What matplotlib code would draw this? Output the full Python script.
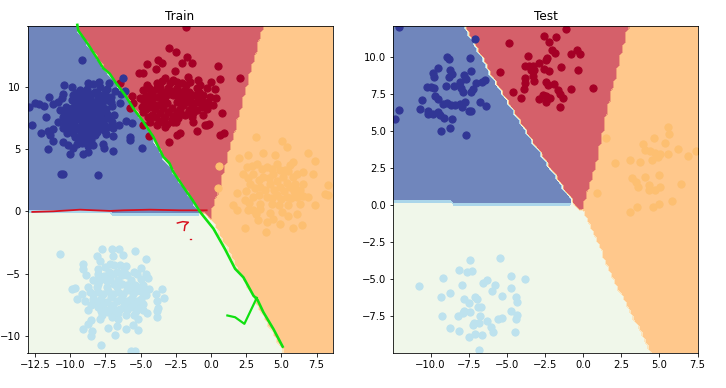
import matplotlib
matplotlib.use("Agg")
import matplotlib.pyplot as plt
from matplotlib.path import Path
import numpy as np

# --- train points -----------------------------------------------------------
train_blue = [(-9.17,12.14),(-6.28,10.67),(-6.09,9.68),(-10.66,3.03),(-10.52,2.98),(-8.01,2.95),(-4.93,5.09),(-6.94,4.85),
    (-11.61,4.99),(-12.11,6.25),(-12.73,6.92),(-12.91,8.39),(-12.54,8.66),(-12.20,8.58),(-11.87,8.45),(-11.49,9.20),
    (-10.43,10.13),(-9.88,10.0),(-11.21,8.61),(-11.26,6.57),(-11.56,6.46),(-11.73,7.59),(-11.45,6.11),(-11.26,5.66),
    (-8.72,10.27),(-8.36,10.21),(-7.96,10.40),(-7.23,10.27),(-9.31,9.73),(-8.79,9.79),(-8.25,9.60),(-7.89,9.95),
    (-7.42,9.79),(-6.82,9.68),(-6.42,9.41),(-10.50,9.38),(-10.62,9.06),(-10.85,8.79),(-9.79,9.33),(-9.43,9.20),
    (-9.08,9.33),(-8.60,9.20),(-8.01,9.06),(-7.65,9.20),(-7.13,8.79),(-7.06,8.45),(-6.47,8.71),(-9.67,8.66),
    (-9.19,8.53),(-8.72,8.53),(-8.25,8.45),(-7.77,8.53),(-10.73,8.12),(-10.14,7.99),(-9.67,7.99),(-9.19,7.91),
    (-8.72,7.99),(-8.13,7.99),(-7.65,7.99),(-10.50,7.59),(-10.02,7.53),(-9.43,7.45),(-8.96,7.59),(-8.48,7.45),
    (-7.89,7.59),(-7.30,7.45),(-10.85,7.18),(-10.38,7.10),(-9.79,7.05),(-9.19,7.05),(-8.72,7.00),(-8.25,7.10),
    (-7.65,7.18),(-7.06,7.18),(-6.52,6.92),(-6.04,7.27),(-5.64,7.10),(-10.50,6.65),(-10.02,6.57),(-9.43,6.57),
    (-8.96,6.57),(-8.36,6.65),(-7.89,6.65),(-7.30,6.78),(-10.26,6.25),(-9.67,5.98),(-9.19,6.11),(-8.72,6.11),
    (-8.25,6.11),(-7.46,6.17),(-6.99,6.06),(-5.76,5.98),(-5.76,5.71),(-10.50,5.58),(-10.14,5.31),(-9.83,5.04),
    (-10.02,4.58),(-9.08,4.58),(-8.72,4.77),(-8.72,5.23),(-8.41,5.31),(-7.65,5.44),(-7.61,5.04),
    (-9.6,9.5),(-9.0,9.6),(-8.5,9.4),(-8.0,9.4),(-7.5,9.5),(-7.1,9.2),(-9.9,8.9),(-9.4,8.9),(-8.9,8.9),(-8.4,8.8),
    (-7.9,8.8),(-7.4,8.9),(-10.3,8.4),(-9.9,8.3),(-9.4,8.3),(-8.95,8.2),(-8.5,8.2),(-7.95,8.3),(-7.45,8.2),(-10.4,7.8),
    (-9.9,7.75),(-9.45,7.7),(-8.95,7.75),(-8.45,7.75),(-7.9,7.75),(-7.4,7.8),(-6.9,7.7),(-10.2,7.3),(-9.7,7.3),(-9.2,7.3),
    (-8.7,7.25),(-8.2,7.3),(-7.7,7.4),(-10.0,6.85),(-9.55,6.8),(-9.1,6.8),(-8.6,6.8),(-8.1,6.85),(-7.6,6.9),(-7.0,6.7),
    (-9.8,6.3),(-9.25,6.35),(-8.7,6.35),(-8.1,6.4),(-7.6,6.5),(-9.4,5.8),(-8.95,5.8),(-8.5,5.7),(-9.5,5.4),(-9.2,5.5)]
train_red = [(-1.78,14.77),(-2.96,13.14),(-2.46,12.76),(-1.68,12.36),(-1.33,11.93),(-2.04,11.88),(-4.53,11.80),(-3.79,12.17),
    (-3.46,11.88),(-3.93,11.39),(-5.14,11.07),(-4.81,11.10),(-2.56,11.29),(0.52,11.69),(-1.66,10.75),(2.06,10.72),
    (0.64,10.59),(-0.02,10.38),(-0.90,10.54),(-6.47,10.32),(-5.64,9.28),(-5.76,8.26),(-4.81,6.92),(-4.38,6.03),
    (-2.96,5.60),(-2.20,6.25),(-2.44,6.11),(-0.97,6.41),(0.64,6.11),(0.92,6.25),(0.76,7.86),(-0.31,6.92),
    (-0.12,7.00),(-0.43,6.92),(-1.37,7.59),(-1.30,7.18),(0.36,9.06),(0.17,8.53),(-0.31,9.87),(0.28,9.79),
    (-0.78,10.13),(-4.57,10.13),(-3.86,10.27),(-3.27,10.67),(-2.68,10.54),(-2.09,10.27),(-1.49,10.40),(-1.02,9.87),
    (-4.81,9.73),(-4.22,9.60),(-3.63,9.95),(-3.03,9.87),(-2.44,9.87),(-1.85,9.73),(-1.26,9.33),(-0.55,9.33),
    (-0.07,9.20),(-5.05,9.06),(-4.45,8.93),(-3.86,9.20),(-3.27,9.20),(-2.68,9.33),(-2.09,9.20),(-1.49,8.93),
    (-0.90,8.79),(-0.19,8.66),(-5.52,8.66),(-4.93,8.34),(-4.34,8.39),(-3.74,8.53),(-3.15,8.66),(-2.44,8.79),
    (-1.97,8.53),(-1.37,8.39),(-0.66,8.39),(-4.81,7.99),(-4.22,7.72),(-3.63,7.86),(-3.03,7.99),(-2.44,7.99),
    (-1.85,7.72),(-1.26,7.86),(-0.55,7.72),(-4.34,7.18),(-3.86,6.92),(-3.39,7.32),(-2.80,7.32),(-2.32,7.45),
    (-3.27,6.78),(-2.68,7.18),(-7.54,7.53),
    (-3.5,10.45),(-2.9,10.3),(-2.4,10.4),(-1.8,10.15),(-4.4,9.9),(-3.9,9.85),(-3.3,9.6),(-2.75,9.65),(-2.2,9.6),(-1.6,9.6),
    (-0.85,9.55),(-4.6,9.3),(-4.2,9.2),(-3.55,9.4),(-3.0,9.45),(-2.4,9.3),(-1.8,9.25),(-0.9,9.2),(-4.75,8.75),(-4.2,8.8),
    (-3.5,8.85),(-2.2,8.8),(-1.7,8.8),(-1.2,8.7),(-0.5,8.8),(-4.6,8.2),(-3.95,8.2),(-3.4,8.25),(-2.8,8.3),(-2.2,8.2),
    (-1.6,8.15),(-1.0,8.1),(-0.3,8.2),(-4.5,7.6),(-3.9,7.55),(-3.3,7.6),(-2.7,7.65),(-2.1,7.8),(-1.55,7.95),(-3.7,7.2),
    (-3.1,7.0),(-2.5,7.2)]
train_orange = [(3.18,5.98),(0.59,3.65),(0.52,1.90),(5.07,5.66),(5.38,5.17),(6.92,4.69),(7.39,4.02),(2.01,4.29),(2.65,4.50),
    (3.72,4.69),(4.55,4.50),(5.85,3.97),(5.62,3.70),(6.56,3.16),(7.27,3.03),(8.34,2.09),(8.10,1.42),(2.54,3.57),
    (3.25,3.83),(3.96,3.57),(4.67,3.83),(5.26,3.30),(2.30,3.03),(3.01,3.03),(3.72,2.76),(4.43,3.03),(5.14,2.76),
    (5.85,2.76),(6.56,2.23),(2.77,2.23),(3.48,1.96),(4.19,2.23),(4.91,1.96),(5.62,1.96),(6.33,1.69),(1.82,1.47),
    (6.92,1.15),(3.01,1.15),(3.96,1.15),(4.67,1.29),(5.38,1.15),(6.09,1.15),(2.42,0.88),(3.01,0.08),(3.36,-0.72),
    (3.96,-0.86),(4.91,-0.99),(5.85,-1.31),(6.45,-1.07),(2.42,-1.31),(3.91,-1.66),(1.59,0.48),(1.82,0.08),(2.65,0.08),
    (3.48,0.21),(4.31,0.62),(5.02,-0.05),(6.09,-0.19),(7.39,0.48),(8.34,1.29),
    (2.9,3.6),(3.6,3.4),(4.3,3.4),(4.9,3.3),(5.5,3.2),(6.1,3.0),(2.6,2.7),(3.4,2.5),(4.1,2.7),(4.7,2.4),(5.4,2.3),(6.0,2.2),
    (3.1,1.9),(3.8,1.7),(4.5,1.7),(5.2,1.6),(5.9,1.6),(2.5,1.6),(3.4,1.3),(4.3,1.1),(5.0,1.0),(5.7,1.1),(6.5,1.2),(2.7,0.7),
    (3.5,0.6),(4.8,0.5),(5.5,0.5),(6.3,0.6),(3.2,-0.2),(4.2,-0.1),(5.5,-0.4),(4.4,-0.6)]
train_light = [(-10.71,-3.40),(-7.77,-3.06),(-7.06,-3.00),(-6.52,-3.00),(-6.28,-3.54),(-5.43,-3.19),(-8.13,-3.59),(-7.89,-4.02),
    (-6.94,-3.62),(-4.62,-3.86),(-9.08,-4.26),(-9.08,-4.64),(-8.89,-5.09),(-7.18,-4.26),(-6.47,-4.34),(-6.07,-4.42),
    (-4.98,-4.53),(-5.29,-5.07),(-4.62,-5.01),(-4.45,-5.36),(-8.06,-5.01),(-7.25,-4.88),(-6.66,-4.88),(-5.95,-5.15),
    (-8.39,-5.50),(-7.89,-5.55),(-7.18,-5.42),(-6.59,-5.55),(-9.91,-6.25),(-9.67,-6.14),(-8.72,-6.09),(-8.13,-6.09),
    (-7.42,-6.09),(-6.71,-6.09),(-5.99,-5.95),(-5.40,-5.95),(-4.81,-5.95),(-4.41,-6.25),(-3.46,-6.25),(-9.19,-6.62),
    (-9.50,-7.02),(-8.36,-6.62),(-7.65,-6.62),(-6.94,-6.62),(-6.23,-6.62),(-5.52,-6.62),(-4.93,-6.49),(-3.93,-6.62),
    (-3.81,-7.16),(-3.34,-6.94),(-8.96,-7.16),(-8.13,-7.16),(-7.42,-7.29),(-6.71,-7.16),(-5.99,-7.16),(-5.29,-7.16),
    (-8.77,-7.88),(-8.01,-7.69),(-7.18,-7.83),(-6.47,-7.83),(-5.76,-7.69),(-5.17,-7.75),(-3.74,-7.75),(-3.86,-7.96),
    (-4.55,-8.15),(-7.77,-8.36),(-7.06,-8.50),(-6.07,-8.36),(-5.17,-8.63),(-3.86,-8.50),(-8.72,-9.03),(-9.08,-9.44),
    (-8.55,-9.97),(-8.48,-9.57),(-7.35,-9.36),(-6.82,-9.89),(-6.66,-9.17),(-6.04,-9.44),(-5.52,-9.12),(-5.21,-9.49),
    (-7.82,-10.72),(-5.71,-11.18),(-5.40,-11.23),(-7.89,-8.63),(-6.59,-8.63),
    (-8.0,-4.6),(-7.5,-4.5),(-6.9,-4.3),(-6.2,-4.8),(-5.5,-4.9),(-7.6,-5.2),(-7.0,-5.0),(-6.3,-5.1),(-5.7,-5.5),(-5.0,-5.4),
    (-8.0,-5.8),(-7.4,-5.6),(-6.9,-5.8),(-6.3,-5.8),(-5.7,-6.1),(-5.1,-6.1),(-8.6,-6.5),(-8.0,-6.5),(-7.3,-6.4),(-6.6,-6.5),
    (-6.0,-6.3),(-5.3,-6.4),(-4.7,-6.3),(-8.4,-7.0),(-7.8,-7.0),(-7.1,-6.9),(-6.4,-7.0),(-5.7,-7.0),(-5.0,-7.0),(-4.6,-6.7),
    (-8.5,-7.5),(-7.7,-7.4),(-7.0,-7.5),(-6.2,-7.5),(-5.5,-7.4),(-4.8,-7.4),(-7.5,-7.9),(-6.8,-8.0),(-6.0,-7.9),(-5.3,-8.0),
    (-7.3,-8.1),(-6.6,-8.2),(-5.5,-8.3),(-7.8,-8.0),(-8.5,-8.7),(-4.8,-7.9)]

# --- test points ------------------------------------------------------------
test_blue = [(-12.08,12.03),(-7.09,11.22),(-8.93,10.0),(-8.80,9.89),(-7.44,9.91),(-9.54,9.28),(-9.85,8.92),(-9.80,8.65),
    (-8.75,9.10),(-8.58,8.87),(-8.80,8.65),(-7.33,9.05),(-7.79,8.78),(-7.70,8.51),(-8.10,8.33),(-6.41,8.46),
    (-6.63,8.31),(-7.05,8.24),(-7.22,7.83),(-7.33,7.67),(-10.24,7.97),(-9.96,7.97),(-9.76,7.88),(-9.02,8.01),
    (-8.49,8.06),(-8.01,7.90),(-7.88,7.61),(-10.57,7.07),(-9.74,7.34),(-9.54,7.16),(-9.19,6.84),(-8.93,6.88),
    (-8.64,6.79),(-8.38,6.79),(-8.10,6.84),(-7.77,6.93),(-7.96,6.61),(-6.78,6.98),(-6.37,6.66),(-7.48,6.34),
    (-7.35,6.34),(-10.70,6.46),(-12.04,6.43),(-10.20,6.34),(-10.15,6.12),(-9.85,6.16),(-9.52,6.30),(-9.37,6.07),
    (-9.12,5.89),(-8.62,5.80),(-12.36,5.82),(-9.30,5.01),(-8.73,5.17),(-7.68,4.74)]
test_red = [(-1.14,11.90),(-2.56,11.40),(-1.77,11.33),(-2.21,11.02),(-4.86,10.95),(-2.04,10.50),(-1.86,10.27),(-3.61,10.07),
    (-2.34,9.93),(-2.43,9.77),(-0.37,10.45),(-0.18,10.20),(-0.81,10.23),(-2.87,9.59),(-3.79,9.39),(-3.57,9.39),
    (-3.28,9.37),(-3.24,9.10),(-3.39,9.10),(-2.58,9.19),(-2.21,9.07),(-1.42,9.30),(-0.31,9.14),(-5.43,9.01),
    (-3.79,8.58),(-3.28,8.74),(-3.24,8.35),(-3.79,8.24),(-3.85,7.83),(-2.45,8.28),(-2.28,8.13),(-1.93,8.19),
    (-1.64,7.79),(-1.53,7.49),(-1.31,7.22),(-0.81,7.81),(0.68,7.88),(-4.62,7.63),(-4.05,7.22),(-2.91,7.18),
    (-2.63,7.45),(-2.41,7.34),(-2.19,7.22),(-2.43,6.93),(-1.51,6.61)]
test_orange = [(5.56,5.24),(5.60,4.79),(1.47,4.54),(4.64,4.51),(3.94,4.15),(5.40,4.18),(4.05,3.72),(4.38,3.68),(4.70,3.50),
    (5.03,3.45),(6.19,3.75),(5.54,3.45),(6.89,3.32),(7.37,3.68),(2.08,2.82),(3.06,3.05),(3.76,2.93),(4.51,3.05),
    (4.92,3.23),(3.19,1.81),(3.50,1.58),(3.63,1.24),(4.07,1.92),(4.95,2.03),(6.39,1.40),(4.29,1.35),(4.29,1.02),
    (4.70,1.02),(5.03,1.24),(0.88,0.79),(3.06,-0.50),(3.54,-0.11),(4.55,-0.16),(4.99,0.09),(5.86,0.27)]
test_light = [(-5.47,-3.57),(-7.40,-3.75),(-8.12,-4.40),(-7.61,-4.51),(-7.26,-4.45),(-9.19,-4.97),(-4.73,-4.81),(-3.83,-5.03),
    (-6.28,-5.08),(-6.56,-5.30),(-7.94,-5.40),(-10.74,-5.46),(-5.80,-5.44),(-4.71,-5.60),(-5.97,-5.80),(-8.70,-5.98),
    (-9.30,-6.21),(-5.30,-6.16),(-4.42,-6.25),(-4.31,-6.57),(-7.07,-6.25),(-6.96,-6.39),(-7.79,-6.39),(-7.48,-6.61),
    (-6.88,-6.88),(-6.68,-6.88),(-4.75,-7.18),(-7.79,-7.18),(-7.42,-7.25),(-7.88,-7.29),(-6.74,-7.52),(-8.23,-7.52),
    (-9.23,-7.52),(-4.33,-7.47),(-4.42,-7.72),(-6.30,-7.83),(-5.60,-7.74),(-5.32,-7.67),(-7.16,-8.01),(-6.83,-8.01),
    (-7.22,-8.15),(-6.06,-8.28),(-5.93,-8.58),(-8.70,-8.33),(-8.15,-8.51),(-7.51,-8.92),(-7.11,-8.71),(-6.63,-8.80),
    (-4.46,-8.58),(-6.81,-9.84)]

# --- decision regions (outline of each class, anything else is orange) -------
XL_TRAIN, YL_TRAIN = (-13.04, 8.63), (-11.33, 14.87)
XL_TEST, YL_TEST = (-12.43, 7.5), (-9.98, 12.1)

train_red_region = [(-9.5,16),(3.95,16),(3.72,14.87),(1.65,6.25),(0.47,1.42),(-0.02,-0.6),(-0.8,-0.1),(-2.0,1.9),(-3.4,4.3),
    (-4.8,7.1),(-6.1,9.2),(-7.6,11.4),(-9.4,14.4)]
train_blue_region = [(-14,16),(-9.5,16),(-9.4,14.4),(-7.6,11.4),(-6.1,9.2),(-4.8,7.1),(-3.4,4.3),(-2.0,1.9),(-0.8,-0.1),
    (-7.0,-0.1),(-7.1,0.15),(-14,0.15)]
train_pale_region = [(-14,0.15),(-7.1,0.15),(-7.0,-0.1),(-0.8,-0.1),(-0.02,-0.6),(1.8,-4.6),(5.09,-11.33),(5.3,-12),(-14,-12)]

test_red_region = [(-7.9,13),(3.2,13),(3.02,12.1),(1.75,7.1),(0.88,2.82),(0.22,0.56),(-0.04,-0.45),(-0.66,0.0),(-0.88,0.45),
    (-4.16,5.53),(-6.13,8.92),(-7.83,12.1)]
test_blue_region = [(-14,13),(-7.9,13),(-7.83,12.1),(-6.13,8.92),(-4.16,5.53),(-0.88,0.45),(-0.66,0.0),(-8.4,0.0),(-8.6,0.2),(-14,0.2)]
test_pale_region = [(-14,0.2),(-8.6,0.2),(-8.4,0.0),(-0.66,0.0),(-0.04,-0.45),(2.15,-5.5),(4.42,-9.98),(4.6,-11),(-14,-11)]

# class 0 red, 1 orange, 2 pale, 3 blue; the in-between bands are the seams
LEVELS = [-0.1, 0.45, 0.8, 1.2, 1.65, 2.03, 2.8, 3.1]
BAND_COLORS = ["#D5606A", "#EE9A78", "#FFC88C", "#FBE5BE", "#F0F7EA", "#ABD6EA", "#7086BC"]

# --- hand drawn marks on the train panel -------------------------------------
green_x = [-9.50,-9.43,-8.79,-8.25,-7.65,-7.2,-6.82,-6.11,-5.52,-4.81,-4.10,-3.39,-2.95,-2.68,-1.97,-1.30,-0.78,0.17,1.0,1.71,2.3,3.01,3.3,3.72,4.43,5.09]
green_y = [14.96,14.50,13.49,12.55,11.47,11.05,10.40,9.33,8.26,7.18,5.98,4.37,3.85,3.16,1.96,0.88,-0.05,-1.39,-3.05,-4.61,-5.3,-6.76,-7.1,-8.10,-9.44,-10.86]
tick_x = [3.25,2.37,1.71,1.16]
tick_y = [-6.94,-9.03,-8.50,-8.36]
red_x = [-12.70,-11.21,-9.31,-7.18,-6.23,-4.34,-2.20,-0.31]
red_y = [-0.05,0.0,0.13,0.03,0.08,0.13,0.08,0.08]
seven_x = [-2.39,-2.01,-1.61,-1.85,-1.90]
seven_y = [-0.94,-0.83,-0.88,-1.13,-1.53]
dot_x = [-1.49,-1.42]
dot_y = [-2.23,-2.23]


def region_grid(xlim, ylim, red, blue, pale):
    xx, yy = np.meshgrid(np.linspace(*xlim, 101), np.linspace(*ylim, 101))
    pts = np.c_[xx.ravel(), yy.ravel()]
    z = np.ones(len(pts))
    z[Path(pale).contains_points(pts)] = 2
    z[Path(blue).contains_points(pts)] = 3
    z[Path(red).contains_points(pts)] = 0
    return xx, yy, z.reshape(xx.shape)


def panel(rect, title, xlim, ylim, regions, clusters, xticks, yticks):
    ax = fig.add_axes(rect)
    xx, yy, z = region_grid(xlim, ylim, *regions)
    ax.contourf(xx, yy, z, levels=LEVELS, colors=BAND_COLORS)
    for pts, k in clusters:
        arr = np.array(pts)
        ax.scatter(arr[:, 0], arr[:, 1], s=52, color=plt.cm.RdYlBu(k / 3))
    ax.set_xlim(*xlim); ax.set_ylim(*ylim)
    ax.set_xticks(xticks); ax.set_yticks(yticks)
    ax.set_title(title, fontsize=12)
    return ax


W, H = 726, 388
fig = plt.figure(figsize=(W / 72, H / 72), dpi=72)


def px_rect(x0, x1, y0, y1):
    return [x0 / W, 1 - y1 / H, (x1 - x0) / W, (y1 - y0) / H]


ax1 = panel(px_rect(27.5, 332.5, 26, 352.5), "Train", XL_TRAIN, YL_TRAIN,
            (train_red_region, train_blue_region, train_pale_region),
            [(train_light, 2), (train_orange, 1), (train_red, 0), (train_blue, 3)],
            np.arange(-12.5, 8, 2.5), [-10, -5, 0, 5, 10])
ax2 = panel(px_rect(393.5, 697.5, 26, 352.5), "Test", XL_TEST, YL_TEST,
            (test_red_region, test_blue_region, test_pale_region),
            [(test_light, 2), (test_orange, 1), (test_red, 0), (test_blue, 3)],
            np.arange(-10, 8, 2.5), np.arange(-7.5, 11, 2.5))

GREEN, RED = "#10E010", "#D8101E"
ax1.plot(green_x, green_y, color=GREEN, lw=2.6, clip_on=False, zorder=5)
ax1.plot(tick_x, tick_y, color=GREEN, lw=2.2, zorder=5)
ax1.plot(red_x, red_y, color=RED, lw=1.8, zorder=4)
ax1.plot(seven_x, seven_y, color=RED, lw=1.5, zorder=4)
ax1.plot(dot_x, dot_y, color=RED, lw=1.3, zorder=4)

fig.savefig("out.png", dpi=72)
